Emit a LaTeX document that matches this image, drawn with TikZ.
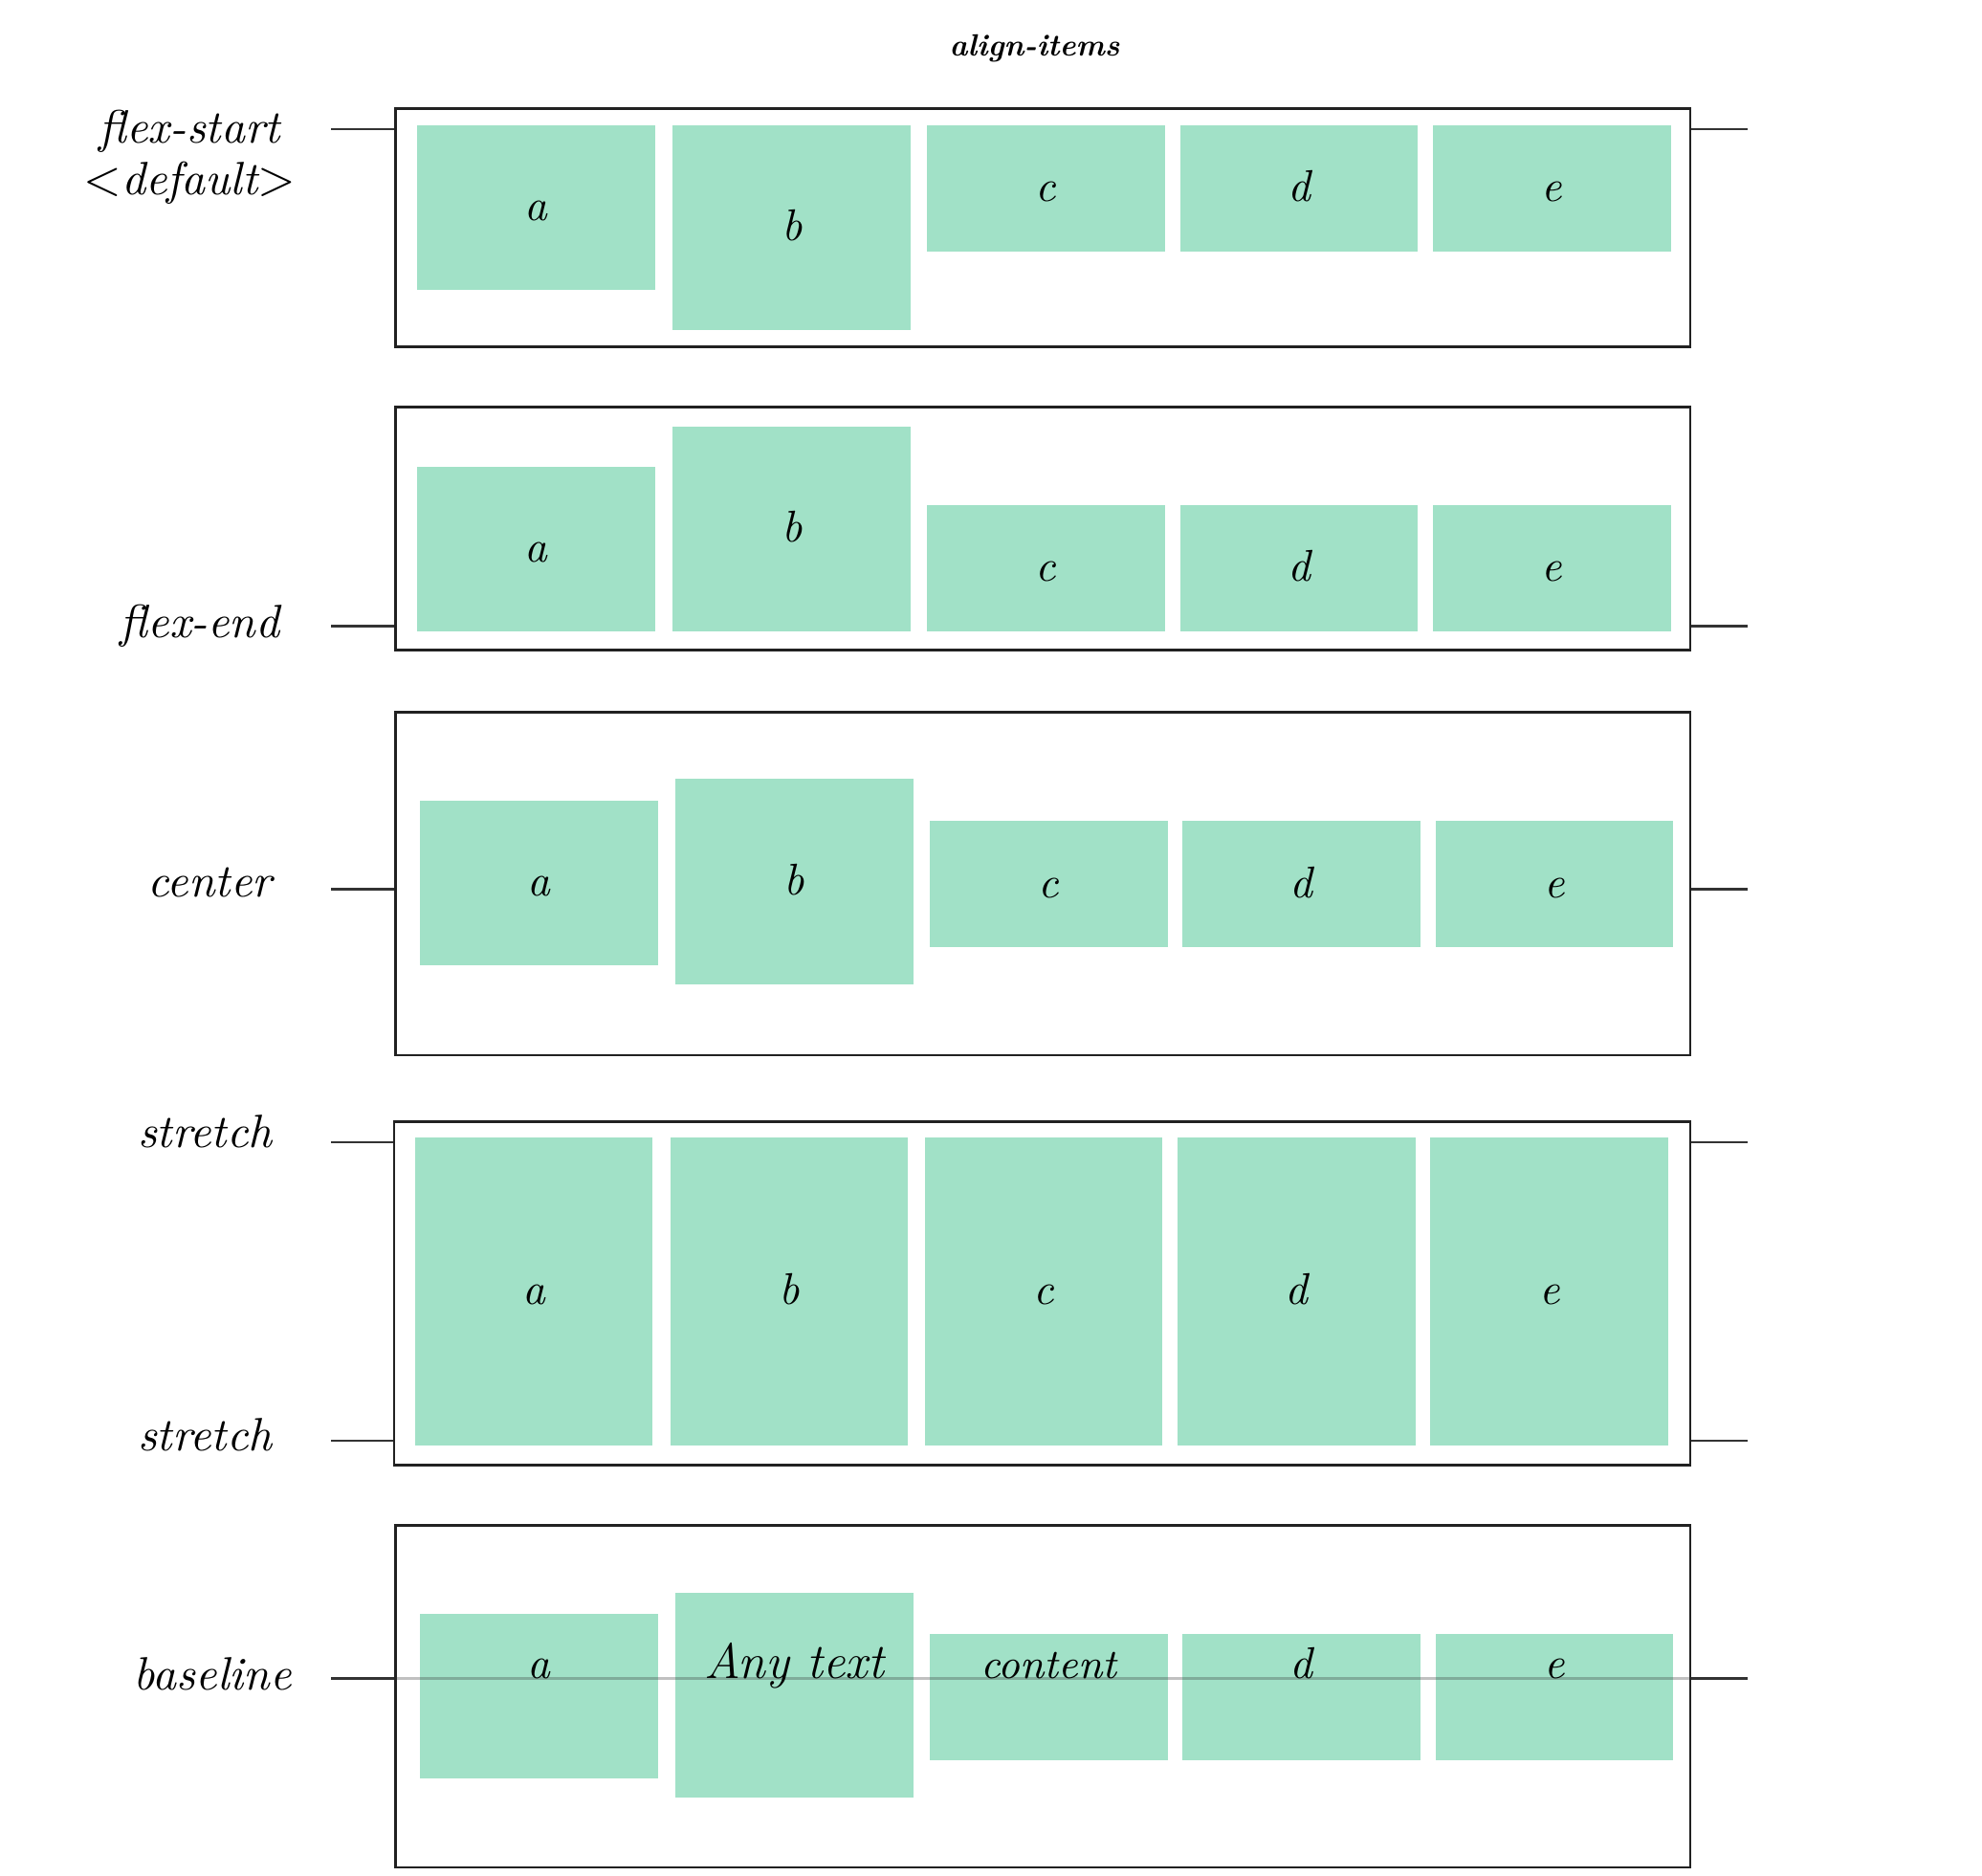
\documentclass[tikz,border=0pt]{standalone}
\usepackage{amsmath}
\usepackage{tikz}
\definecolor{itemgreen}{RGB}{161,225,199}

\begin{document}
\begin{tikzpicture}[x=0.01cm,y=-0.01cm]
        \tikzstyle{every node} = [inner sep=0pt,font=\fontsize{10}{12}\selectfont\itshape]
        \tikzstyle{item} = [rectangle,fill=itemgreen,minimum width=1.88cm,text height=6pt,text depth=0pt]
        \tikzstyle{flexbox} = [rectangle,draw=black!87,line width=0.55pt,fill=none]
        \tikzstyle{side} = [anchor=base,font=\fontsize{10.5}{12}\selectfont\itshape]
        \tikzstyle{guide} = [draw=black!80,line width=0.55pt]
        \useasboundingbox (0,0) rectangle (1567,1483);
        \node (title) at (818,44) [anchor=base,font=\fontsize{6.9}{8}\selectfont\bfseries\itshape] {align-items};
        % flex-start
        \node[flexbox,minimum width=10.23cm,minimum height=1.88cm] (c1) at (824.5,180) {};
        \node[item,minimum height=1.30cm] (a1) at (424,164) {a};
        \node[item,minimum height=1.62cm] (b1) at (626,180) {b};
        \node[item,minimum height=1.00cm] (c1i) at (827,149) {c};
        \node[item,minimum height=1.00cm] (d1) at (1027,149) {d};
        \node[item,minimum height=1.00cm] (e1) at (1227,149) {e};
        \node[side] (l1) at (150,113) {flex-start};
        \node[side] (l1b) at (150,154) {$<$default$>$};
        \coordinate (gl1) at (262,102);
        \coordinate (gr1) at (1382,102);
        \draw[guide] (gl1) -- (gl1 -| c1.west);
        \draw[guide] (gr1 -| c1.east) -- (gr1);
        % flex-end
        \node[flexbox,minimum width=10.23cm,minimum height=1.92cm] (c2) at (824.5,418) {};
        \node[item,minimum height=1.30cm] (a2) at (424,434) {a};
        \node[item,minimum height=1.62cm] (b2) at (626,418) {b};
        \node[item,minimum height=1.00cm] (c2i) at (827,449) {c};
        \node[item,minimum height=1.00cm] (d2) at (1027,449) {d};
        \node[item,minimum height=1.00cm] (e2) at (1227,449) {e};
        \node[side] (l2) at (158,504) {flex-end};
        \coordinate (gl2) at (262,495);
        \coordinate (gr2) at (1382,495);
        \draw[guide] (gl2) -- (gl2 -| c2.west);
        \draw[guide] (gr2 -| c2.east) -- (gr2);
        % center
        \node[flexbox,minimum width=10.23cm,minimum height=2.71cm] (c3) at (824.5,698.5) {};
        \node[item,minimum height=1.30cm] (a3) at (426,698) {a};
        \node[item,minimum height=1.62cm] (b3) at (628,697) {b};
        \node[item,minimum height=1.00cm] (c3i) at (829,699) {c};
        \node[item,minimum height=1.00cm] (d3) at (1029,699) {d};
        \node[item,minimum height=1.00cm] (e3) at (1229,699) {e};
        \node[side] (l3) at (166,709) {center};
        \coordinate (gl3) at (262,703);
        \coordinate (gr3) at (1382,703);
        \draw[guide] (gl3) -- (gl3 -| c3.west);
        \draw[guide] (gr3 -| c3.east) -- (gr3);
        % stretch
        \node[flexbox,minimum width=10.24cm,minimum height=2.71cm] (c4) at (824,1022.5) {};
        \node[item,minimum height=2.44cm] (a4) at (422,1021) {a};
        \node[item,minimum height=2.44cm] (b4) at (624,1021) {b};
        \node[item,minimum height=2.44cm] (c4i) at (825,1021) {c};
        \node[item,minimum height=2.44cm] (d4) at (1025,1021) {d};
        \node[item,minimum height=2.44cm] (e4) at (1225,1021) {e};
        \node[side] (l4) at (162,907) {stretch};
        \node[side] (l4b) at (162,1147) {stretch};
        \coordinate (gl4) at (262,903);
        \coordinate (gr4) at (1382,903);
        \coordinate (gl4b) at (262,1139);
        \coordinate (gr4b) at (1382,1139);
        \draw[guide] (gl4) -- (gl4 -| c4.west);
        \draw[guide] (gr4 -| c4.east) -- (gr4);
        \draw[guide] (gl4b) -- (gl4b -| c4.west);
        \draw[guide] (gr4b -| c4.east) -- (gr4b);
        % baseline
        \node[flexbox,minimum width=10.23cm,minimum height=2.70cm] (c5) at (824.5,1341) {};
        \node[item,minimum height=1.30cm] (a5) at (426,1341) {};
        \node[item,minimum height=1.62cm] (b5) at (628,1340) {};
        \node[item,minimum height=1.00cm] (c5i) at (829,1341.5) {};
        \node[item,minimum height=1.00cm] (d5) at (1029,1341.5) {};
        \node[item,minimum height=1.00cm] (e5) at (1229,1341.5) {};
        \coordinate (gl5) at (262,1327);
        \coordinate (gr5) at (1382,1327);
        \draw[guide] (gl5) -- (gl5 -| c5.west);
        \draw[guide] (gr5 -| c5.east) -- (gr5);
        \draw[guide,draw opacity=0.3] (gl5 -| c5.west) -- (gr5 -| c5.east);
        \node[anchor=base] (ta5) at (a5 |- gl5) {a};
        \node[anchor=base,font=\fontsize{11.2}{13}\selectfont\itshape] (tb5) at (b5 |- gl5) {Any text};
        \node[anchor=base,font=\fontsize{9.4}{11}\selectfont\itshape] (tc5) at (c5i |- gl5) {content};
        \node[anchor=base] (td5) at (d5 |- gl5) {d};
        \node[anchor=base] (te5) at (e5 |- gl5) {e};
        \node[side] (l5) at (168,1336) {baseline};
      \end{tikzpicture}
\end{document}
